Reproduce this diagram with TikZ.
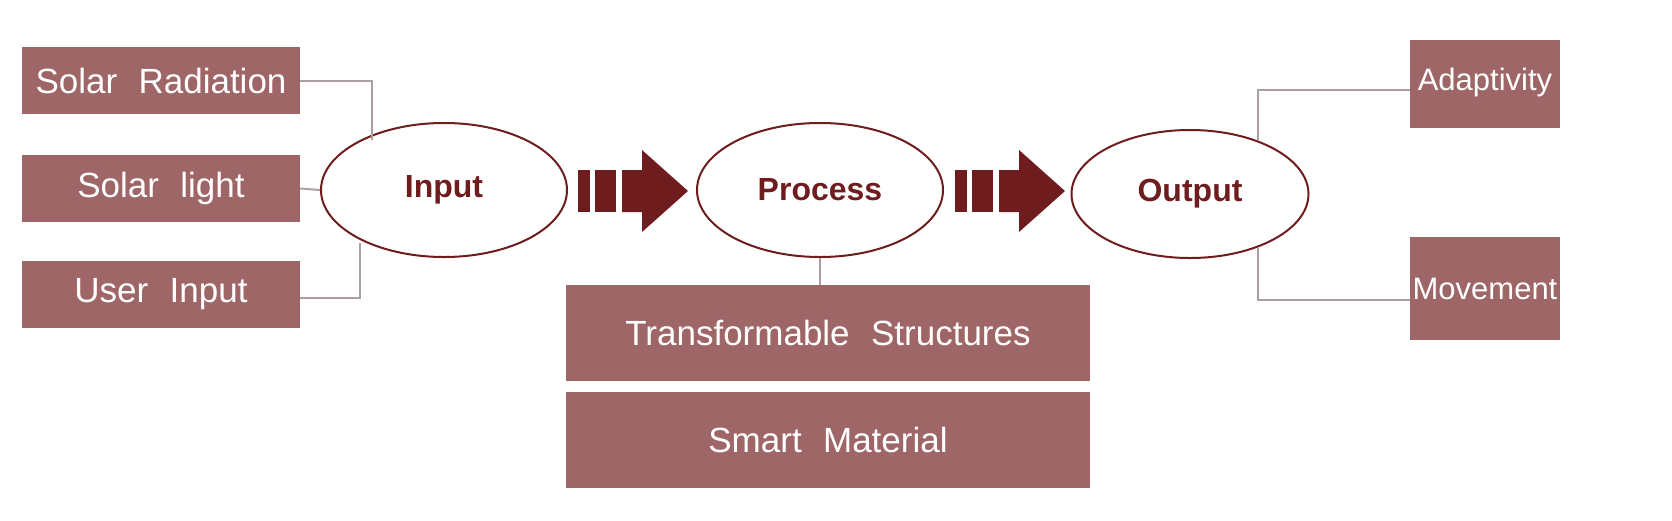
\documentclass[tikz,border=0pt]{standalone}
\usepackage{fontspec}
\setmainfont{Liberation Sans}
\usetikzlibrary{shapes.geometric}
\definecolor{boxc}{RGB}{158,102,102}
\definecolor{darkr}{RGB}{110,28,30}
\definecolor{linec}{RGB}{170,160,160}
\tikzset{
 box/.style={fill=boxc,draw=none,text=white,font=\fontsize{35}{38}\selectfont,inner sep=0pt},
 rbox/.style={box,font=\fontsize{31}{34}\selectfont,minimum width=150pt},
 ell/.style={ellipse,draw=darkr,line width=2pt,text=darkr,font=\bfseries\fontsize{32}{36}\selectfont,inner sep=0pt},
 con/.style={draw=linec,line width=2pt},
 bar/.style={fill=darkr,draw=none}
}
\begin{document}
\begin{tikzpicture}[x=1pt,y=-1pt]
\useasboundingbox (0,0) rectangle (1672,520);
\node[box,minimum width=278pt,minimum height=67pt] (sr) at (161,80.5) {Solar\,\, Radiation};
\node[box,minimum width=278pt,minimum height=67pt] (sl) at (161,188.5) {Solar\,\, light};
\node[box,minimum width=278pt,minimum height=67pt] (ui) at (161,294.5) {User\,\, Input};
\node[ell,minimum width=246pt,minimum height=134pt] (in) at (444,190) {Input};
\node[ell,minimum width=246pt,minimum height=134pt] (pr) at (820,190) {Process};
\node[ell,minimum width=237pt,minimum height=128pt] (out) at (1190,194) {Output};
\node[box,minimum width=524pt,minimum height=96pt] (ts) at (828,333) {Transformable\,\, Structures};
\node[box,minimum width=524pt,minimum height=96pt] (sm) at (828,440) {Smart\,\, Material};
\node[rbox,minimum height=88pt] (ad) at (1485,84) {\raisebox{10pt}{Adaptivity}};
\node[rbox,minimum height=103pt] (mv) at (1485,288.5) {Movement};
% connectors
\draw[con] (sr.east |- 0,81) -| (372,140);
\draw[con] (sl.east) -- (in.west);
\draw[con] (ui.east |- 0,298) -| (360,243);
\draw[con] (pr.south) -- (ts.north -| pr.south);
\draw[con] (ad.west |- 0,90) -| (1258,140);
\draw[con] (mv.west |- 0,300) -| (1258,248);
% arrows
\foreach \x [count=\i] in {578,955}{
 \coordinate (a\i) at (\x,191);
 \fill[bar] (\x,170) rectangle ++(12,42);
 \fill[bar] (\x+17,170) rectangle ++(21,42);
 \fill[bar] (\x+44,170) -- (\x+64,170) -- (\x+64,150) -- (\x+110,191) -- (\x+64,232) -- (\x+64,212) -- (\x+44,212) -- cycle;
}
\end{tikzpicture}
\end{document}
